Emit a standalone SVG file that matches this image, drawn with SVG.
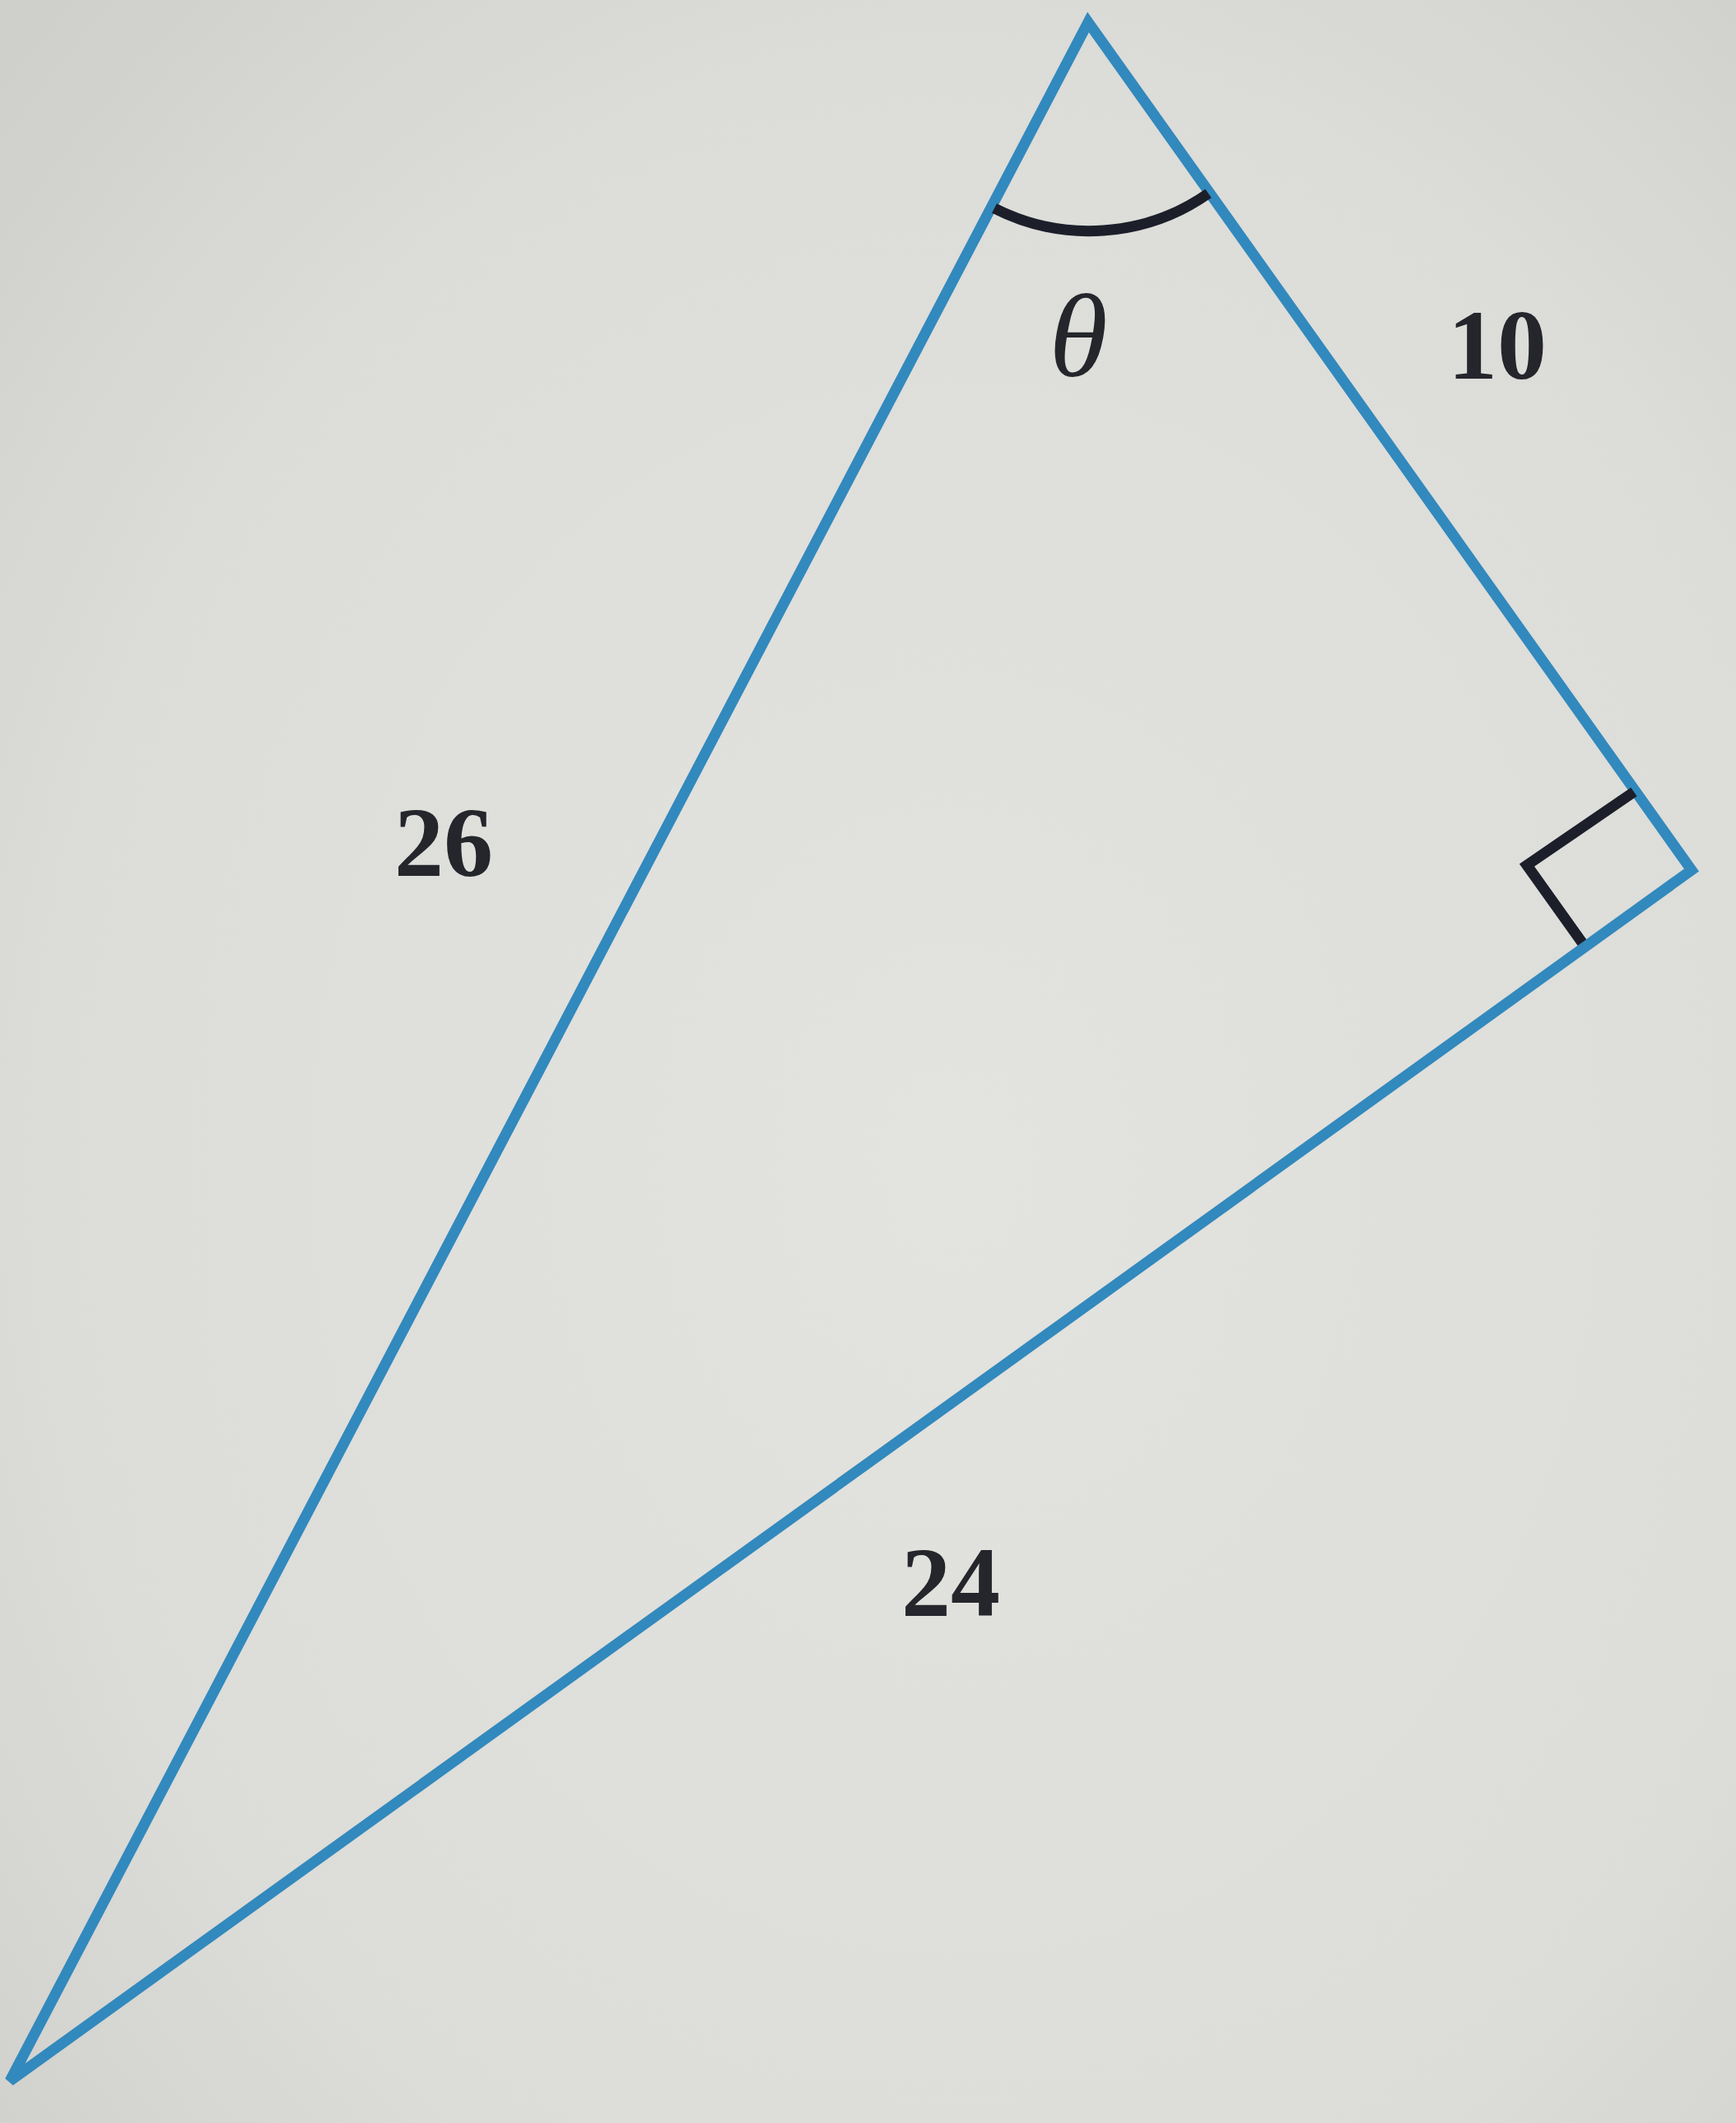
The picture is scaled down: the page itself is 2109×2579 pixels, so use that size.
<svg xmlns="http://www.w3.org/2000/svg" width="2109" height="2579" viewBox="0 0 2109 2579">
  <defs>
    <radialGradient id="bg" cx="0.55" cy="0.55" r="0.75">
      <stop offset="0" stop-color="#e3e3df"/>
      <stop offset="0.7" stop-color="#dcdcd8"/>
      <stop offset="1" stop-color="#cfcfcb"/>
    </radialGradient>
    <style>
      .side { fill: none; stroke: #3289bd; stroke-width: 13; stroke-linejoin: miter; stroke-linecap: round; }
      .mark { fill: none; stroke: #1c1f2a; stroke-width: 13; stroke-linejoin: miter; }
      .lbl { font-family: "Liberation Serif", "Times New Roman", serif; font-weight: bold; font-size: 120px; fill: #24262c; text-anchor: middle; }
      .theta { font-family: "Liberation Serif", "Times New Roman", serif; font-style: italic; font-size: 145px; fill: #24262c; text-anchor: middle; }
    </style>
  </defs>
  <rect x="0" y="0" width="2109" height="2579" fill="url(#bg)"/>
  <g id="triangle">
    <polygon class="side" points="1322,27 2055,1057 12,2528"/>
  </g>
  <g id="angle-theta">
    <path class="mark" d="M1208,253 A253,253 0 0 0 1468,235"/>
    <text class="theta" x="1310" y="457">θ</text>
  </g>
  <g id="right-angle">
    <polyline class="mark" points="1985,962 1855,1051 1922,1145"/>
  </g>
  <g id="labels">
    <text class="lbl" x="1819" y="460">10</text>
    <text class="lbl" x="539" y="1064">26</text>
    <text class="lbl" x="1155" y="1963">24</text>
  </g>
</svg>
